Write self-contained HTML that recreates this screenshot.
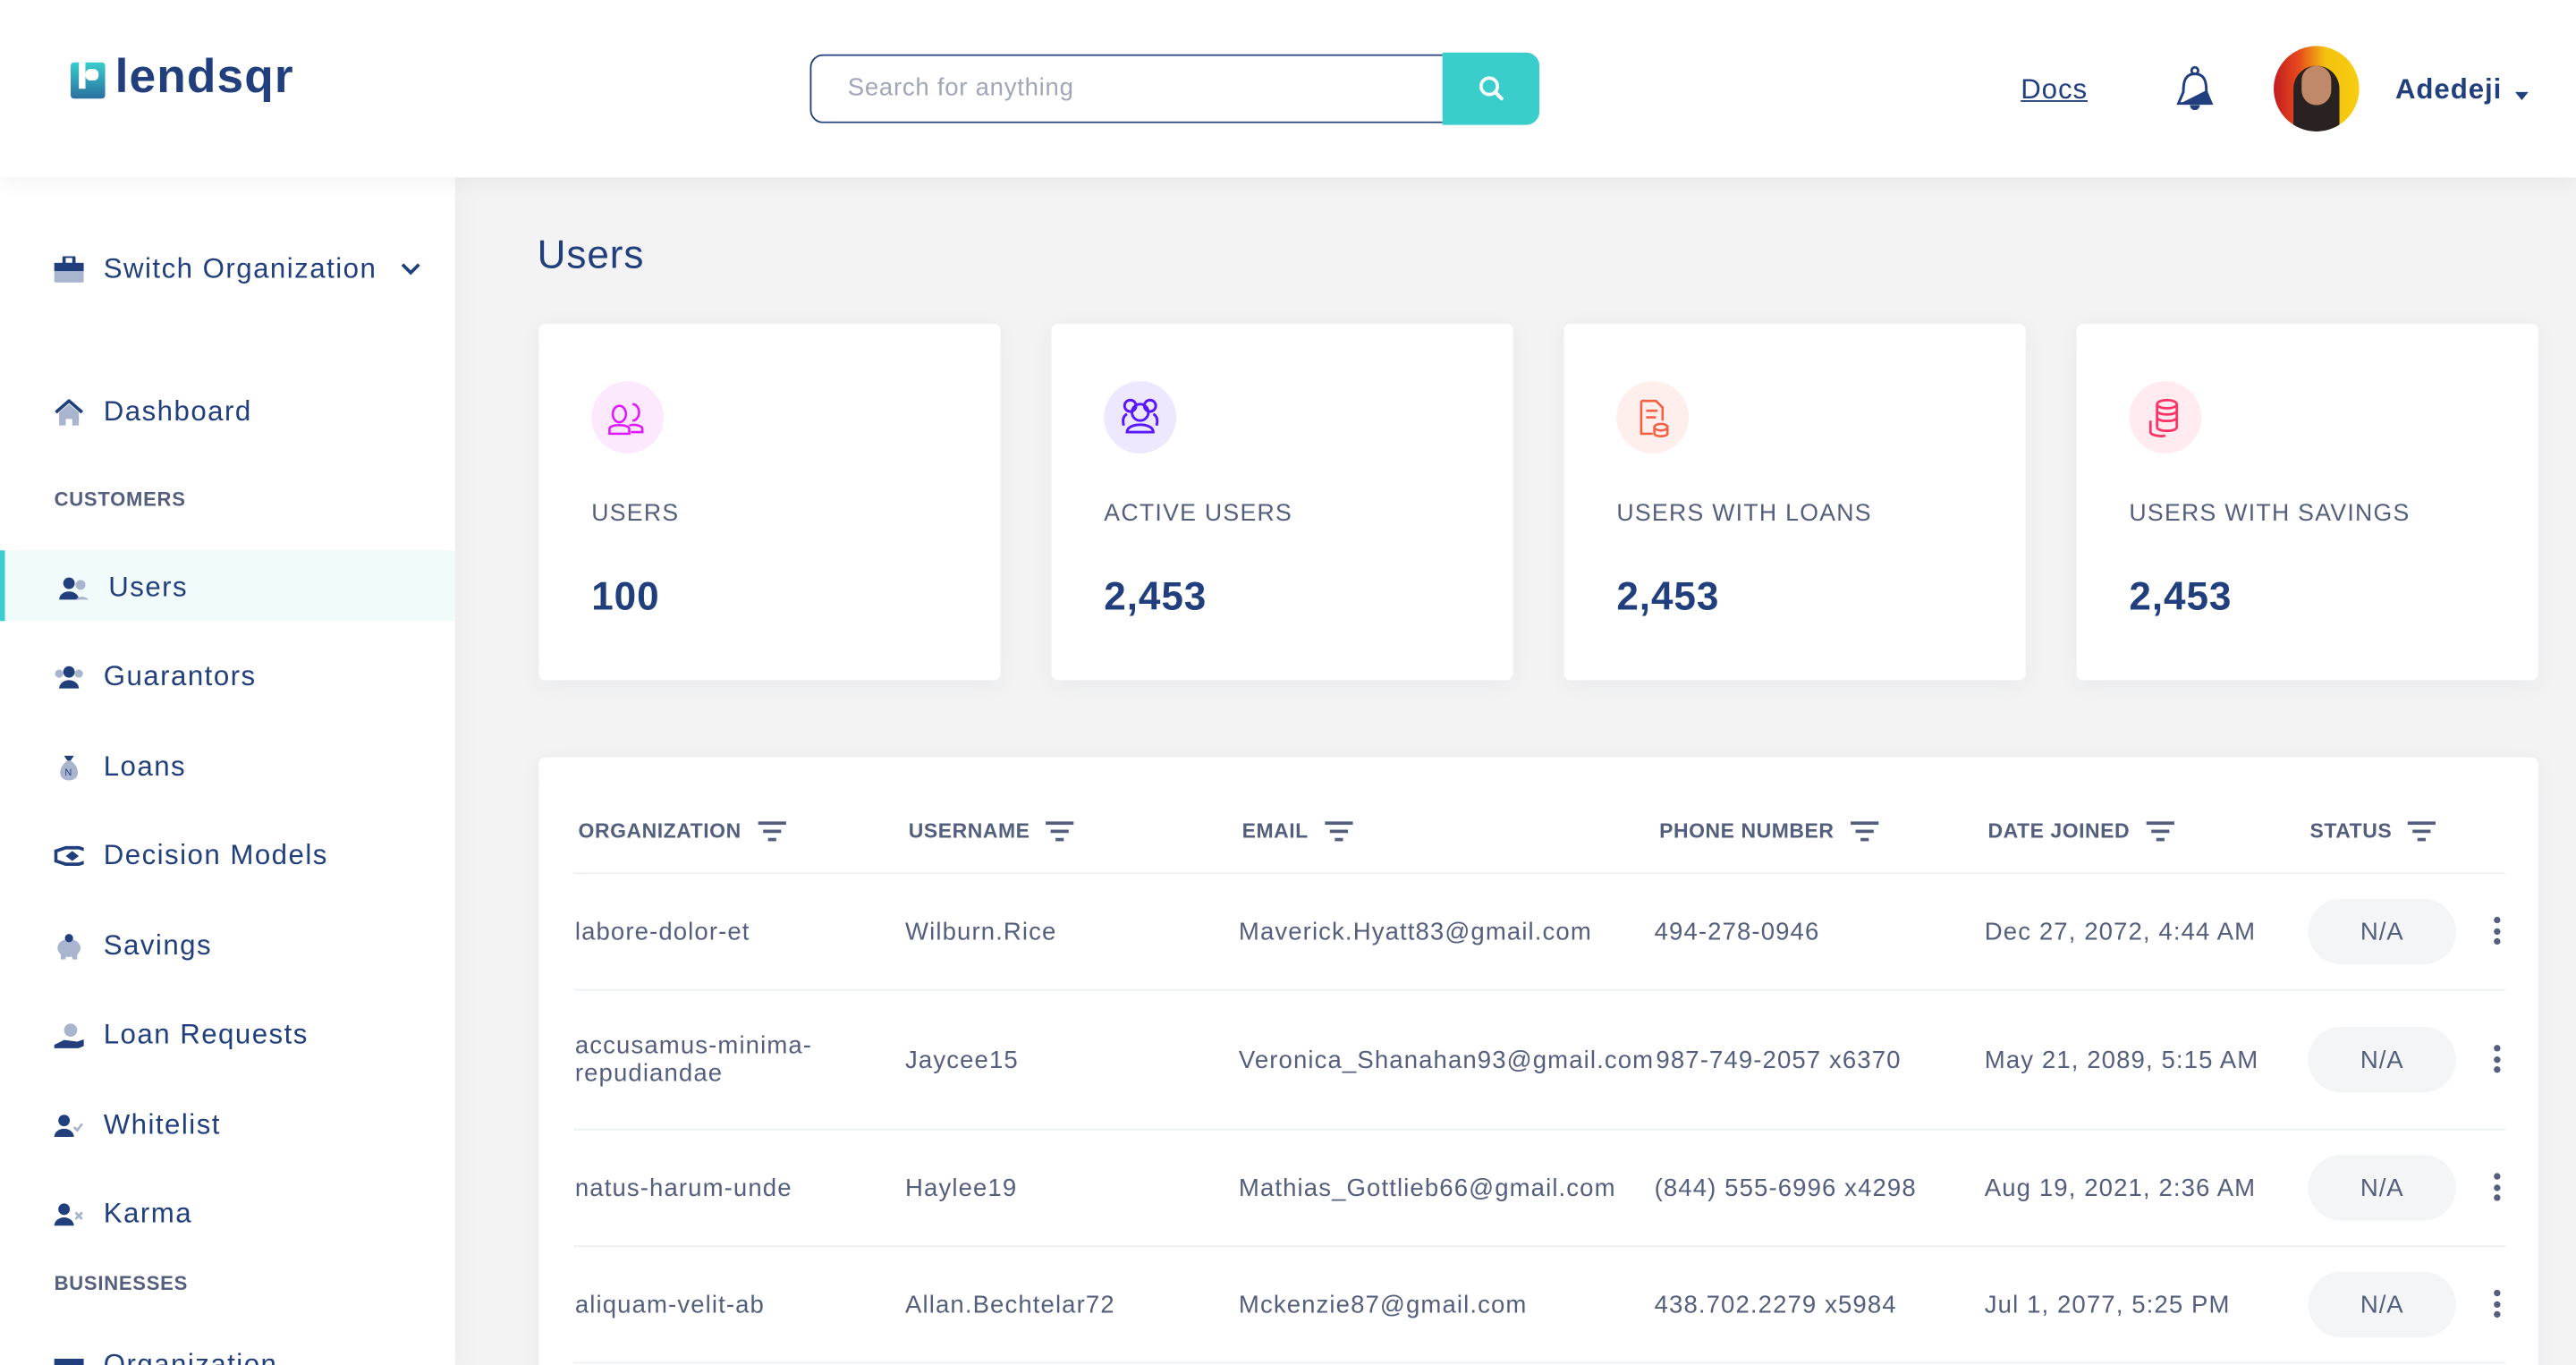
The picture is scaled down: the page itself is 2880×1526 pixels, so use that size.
<!DOCTYPE html>
<html><head><meta charset="utf-8">
<style>
html,body{margin:0;padding:0;width:2880px;height:1526px;overflow:hidden;background:#F3F3F3;}
#wrap{position:absolute;left:0;top:0;width:1568px;height:831px;transform:scale(1.83674);transform-origin:0 0;font-family:"Liberation Sans",sans-serif;color:#213F7D;background:#F3F3F3;overflow:hidden;}
.abs{position:absolute;}
#header{left:0;top:0;width:1568px;height:108px;background:#fff;box-shadow:0 3px 12px rgba(0,0,0,0.05);z-index:3;}
#sidebar{left:0;top:108px;width:277px;height:723px;background:#fff;box-shadow:0 5px 20px rgba(0,0,0,0.04);z-index:2;}
.nav{position:absolute;left:33px;font-size:17px;color:#213F7D;display:flex;align-items:center;gap:12px;white-space:nowrap;letter-spacing:0.8px;}
.nav .ic{width:18px;height:16px;display:inline-block;}
.sec{position:absolute;left:33px;font-size:12px;color:#545F7D;font-weight:600;letter-spacing:0.4px;}
.card{position:absolute;top:197px;width:281px;height:217px;background:#fff;border-radius:4px;box-shadow:0 3px 14px rgba(33,63,125,0.05);}
.card .circ{position:absolute;left:32px;top:35px;width:44px;height:44px;border-radius:50%;}
.card .lbl{position:absolute;left:32px;top:108px;font-size:14.5px;color:#545F7D;letter-spacing:0.7px;}
.card .num{position:absolute;left:32px;top:153px;font-size:24px;font-weight:700;color:#213F7D;letter-spacing:0.5px;}
#table{left:328px;top:461px;width:1217px;height:400px;background:#fff;border-radius:4px;box-shadow:0 3px 14px rgba(33,63,125,0.05);}
.th{position:absolute;top:38px;font-size:12.5px;font-weight:700;color:#545F7D;display:flex;align-items:center;gap:10px;letter-spacing:0.3px;}
.filt{width:17px;height:12px;position:relative;display:inline-block;}
.filt i{position:absolute;height:2px;background:#545F7D;left:50%;transform:translateX(-50%);}
.sep{position:absolute;left:21px;width:1176px;height:1px;background:#EDF1F6;}
.td{position:absolute;font-size:15px;color:#545F7D;line-height:17px;white-space:nowrap;letter-spacing:0.6px;}
.pill{position:absolute;left:1077px;width:90px;height:40px;border-radius:20px;background:#F4F5F7;font-size:15px;color:#545F7D;text-align:center;line-height:41px;letter-spacing:0.5px;}
.kebab{position:absolute;left:1190px;width:4px;}
.kebab i{display:block;width:4px;height:4px;border-radius:50%;background:#545F7D;margin-bottom:2.5px;}
</style></head>
<body>
<div id="wrap">
 <div id="header" class="abs">
  <div class="abs" style="left:43px;top:38px;width:21px;height:22px;border-radius:2px;background:linear-gradient(#39CDCC,#2a6fa0);">
   <div class="abs" style="left:5px;top:0;width:4px;height:16px;background:#fff;"></div>
   <div class="abs" style="left:9px;top:4px;width:8px;height:7px;background:#fff;border-radius:3px;"></div>
  </div>
  <div class="abs" style="left:70px;top:31px;font-size:29px;font-weight:700;color:#213F7D;letter-spacing:0.6px;">lendsqr</div>
  <div class="abs" style="left:493px;top:33px;width:385px;height:42px;border:1px solid #213F7D;border-right:none;border-radius:8px 0 0 8px;box-sizing:border-box;">
   <span class="abs" style="left:22px;top:11px;font-size:15px;color:#A0A6B8;letter-spacing:0.4px;">Search for anything</span>
  </div>
  <div class="abs" style="left:878px;top:32px;width:59px;height:44px;background:#39CDCC;border-radius:0 8px 8px 0;">
   <svg width="59" height="44"><circle cx="28.5" cy="20.5" r="5" fill="none" stroke="#fff" stroke-width="2"/><line x1="32" y1="24" x2="36" y2="28" stroke="#fff" stroke-width="2.2" stroke-linecap="round"/></svg>
  </div>
  <div class="abs" style="left:1230px;top:45px;font-size:17px;color:#213F7D;text-decoration:underline;letter-spacing:0.5px;">Docs</div>
  <svg class="abs" style="left:1323px;top:40px" width="26" height="30"><circle cx="13" cy="3" r="2" fill="none" stroke="#213F7D" stroke-width="1.5"/><path d="M13 5 C6 5 6 12 6 16 L3 23 L23 23 L20 16 C20 12 20 5 13 5Z" fill="none" stroke="#213F7D" stroke-width="1.6"/><path d="M4 23 L20 15 L22 23Z" fill="#213F7D"/><path d="M10 24 a3 3 0 0 0 6 0" fill="#213F7D"/></svg>
  <div class="abs" style="left:1384px;top:28px;width:52px;height:52px;border-radius:50%;overflow:hidden;background:linear-gradient(90deg,#c21c22 0%,#e84b1c 30%,#f3c20f 60%,#f7cd10 100%);">
   <div class="abs" style="left:12px;top:12px;width:28px;height:40px;border-radius:14px 14px 4px 4px;background:#2a2220;"></div>
   <div class="abs" style="left:17px;top:12px;width:18px;height:24px;border-radius:9px;background:#c08a6a;"></div>
  </div>
  <div class="abs" style="left:1458px;top:45px;font-size:17px;color:#213F7D;font-weight:600;letter-spacing:0.5px;">Adedeji</div>
  <div class="abs" style="left:1531px;top:56px;width:0;height:0;border-left:4.5px solid transparent;border-right:4.5px solid transparent;border-top:5px solid #213F7D;"></div>
 </div>

 <div id="sidebar" class="abs">
  <div class="nav" style="top:46px"><svg class="ic" width="18" height="16"><rect x="0" y="4" width="18" height="12" rx="1" fill="#A9B5CE"/><rect x="0" y="4" width="18" height="5" fill="#213F7D"/><rect x="6" y="0" width="6" height="5" rx="1" fill="none" stroke="#213F7D" stroke-width="2"/></svg>Switch Organization <svg width="14" height="10" style="margin-left:2px"><path d="M2 2 L7 7 L12 2" fill="none" stroke="#213F7D" stroke-width="2"/></svg></div>
  <div class="nav" style="top:133px"><svg class="ic" width="18" height="16"><path d="M1 8 L9 1 L17 8" fill="none" stroke="#213F7D" stroke-width="2"/><path d="M3 8 L9 3 L15 8 L15 16 L11 16 L11 12 L7 12 L7 16 L3 16Z" fill="#A9B5CE"/></svg>Dashboard</div>
  <div class="sec" style="top:189px">CUSTOMERS</div>
  <div class="abs" style="left:0;top:227px;width:277px;height:43px;background:#F2FBFB;border-left:3px solid #39CDCC;box-sizing:border-box;"></div>
  <div class="nav" style="top:240px;left:36px"><svg class="ic" width="18" height="16"><circle cx="6" cy="5" r="3.5" fill="#213F7D"/><path d="M0 15 a6 5 0 0 1 12 0Z" fill="#213F7D"/><circle cx="13" cy="6" r="3" fill="#A9B5CE"/><path d="M10 15 a5 4.5 0 0 1 8 0Z" fill="#A9B5CE"/></svg>Users</div>
  <div class="nav" style="top:294px"><svg class="ic" width="18" height="16"><circle cx="9" cy="5" r="3.5" fill="#213F7D"/><path d="M3 15 a6 5 0 0 1 12 0Z" fill="#213F7D"/><circle cx="3" cy="6" r="2.5" fill="#A9B5CE"/><circle cx="15" cy="6" r="2.5" fill="#A9B5CE"/></svg>Guarantors</div>
  <div class="nav" style="top:349px"><svg class="ic" width="18" height="16"><path d="M6 1 L12 1 L10 4 L8 4Z" fill="#213F7D"/><path d="M8 4 L10 4 C16 8 16 16 9 16 C2 16 2 8 8 4Z" fill="#A9B5CE"/><text x="9" y="13" font-size="6" fill="#213F7D" text-anchor="middle">N</text></svg>Loans</div>
  <div class="nav" style="top:403px"><svg class="ic" width="22" height="16"><path d="M1 5 L7 3 L15 3 L21 5 L21 11 L15 13 L7 13 L1 11Z" fill="none" stroke="#213F7D" stroke-width="2"/><path d="M7 8 L11 5 L15 8 L11 11Z" fill="#213F7D"/></svg>Decision Models</div>
  <div class="nav" style="top:458px"><svg class="ic" width="18" height="16"><ellipse cx="9" cy="9" rx="7" ry="5.5" fill="#A9B5CE"/><circle cx="9" cy="3" r="2.5" fill="#213F7D"/><rect x="4" y="13" width="3" height="3" fill="#A9B5CE"/><rect x="11" y="13" width="3" height="3" fill="#A9B5CE"/></svg>Savings</div>
  <div class="nav" style="top:512px"><svg class="ic" width="20" height="18"><circle cx="10" cy="5" r="4" fill="#A9B5CE"/><path d="M0 14 L6 11 L14 12 L20 10 L20 14 L12 17 L0 17Z" fill="#213F7D"/></svg>Loan Requests</div>
  <div class="nav" style="top:567px"><svg class="ic" width="18" height="16"><circle cx="6" cy="5" r="3.5" fill="#213F7D"/><path d="M0 15 a6 5 0 0 1 12 0Z" fill="#213F7D"/><path d="M12 9 L14 11 L17 7" fill="none" stroke="#A9B5CE" stroke-width="1.5"/></svg>Whitelist</div>
  <div class="nav" style="top:621px"><svg class="ic" width="18" height="16"><circle cx="6" cy="5" r="3.5" fill="#213F7D"/><path d="M0 15 a6 5 0 0 1 12 0Z" fill="#213F7D"/><path d="M13 7 L17 11 M17 7 L13 11" stroke="#A9B5CE" stroke-width="1.5"/></svg>Karma</div>
  <div class="sec" style="top:666px">BUSINESSES</div>
  <div class="nav" style="top:713px"><svg class="ic" width="18" height="16"><rect x="0" y="4" width="18" height="12" rx="1" fill="#A9B5CE"/><rect x="0" y="4" width="18" height="5" fill="#213F7D"/></svg>Organization</div>
 </div>

 <div class="abs" style="left:327px;top:142px;font-size:24px;color:#213F7D;font-weight:500;letter-spacing:0.5px;">Users</div>

 <div class="card" style="left:328px">
  <div class="circ" style="background:#FCE9FD"><svg width="44" height="44"><g fill="none" stroke="#DF18FF" stroke-width="1.4"><path d="M17 15 a4 5 0 0 1 0 10 a4 5 0 0 1 0-10Z M11 32 L11 29 C11 26 23 26 23 29 L23 32Z"/><path d="M25 14 a4 5 0 0 1 0 10 M23 27 C26 26 31 27 31 29 L31 31 L24 31"/></g></svg></div>
  <div class="lbl">USERS</div>
  <div class="num">100</div>
 </div>
 <div class="card" style="left:640px">
  <div class="circ" style="background:#EEE8FF"><svg width="44" height="44"><g fill="none" stroke="#5718FF" stroke-width="1.6"><circle cx="22" cy="19" r="5"/><circle cx="16" cy="15" r="3.5"/><circle cx="28" cy="15" r="3.5"/><path d="M14 31 C14 25 30 25 30 31Z"/><path d="M12 27 C11 23 12 21 14 20 M32 27 C33 23 32 21 30 20"/></g></svg></div>
  <div class="lbl">ACTIVE USERS</div>
  <div class="num">2,453</div>
 </div>
 <div class="card" style="left:952px">
  <div class="circ" style="background:#FEEFEC"><svg width="44" height="44"><g fill="none" stroke="#F55F44" stroke-width="1.4"><path d="M15 12 L24 12 L28 16 L28 24 M15 12 L15 32 L22 32"/><line x1="18" y1="18" x2="25" y2="18"/><line x1="18" y1="22" x2="24" y2="22"/><ellipse cx="27" cy="28" rx="4" ry="2"/><path d="M23 28 L23 32 C23 34 31 34 31 32 L31 28"/></g></svg></div>
  <div class="lbl">USERS WITH LOANS</div>
  <div class="num">2,453</div>
 </div>
 <div class="card" style="left:1264px">
  <div class="circ" style="background:#FFEBF0"><svg width="44" height="44"><g fill="none" stroke="#FF3366" stroke-width="1.5"><ellipse cx="23" cy="14" rx="6" ry="2.5"/><path d="M17 14 L17 28 C17 31 29 31 29 28 L29 14"/><path d="M17 18 C17 21 29 21 29 18 M17 22 C17 25 29 25 29 22 M13 24 L13 31 C13 33 20 34 22 33"/></g></svg></div>
  <div class="lbl">USERS WITH SAVINGS</div>
  <div class="num">2,453</div>
 </div>

 <div id="table" class="abs">
  <div class="th" style="left:24px">ORGANIZATION<span class="filt"><i style="top:0;width:17px"></i><i style="top:5px;width:11px"></i><i style="top:10px;width:5px"></i></span></div>
  <div class="th" style="left:225px">USERNAME<span class="filt"><i style="top:0;width:17px"></i><i style="top:5px;width:11px"></i><i style="top:10px;width:5px"></i></span></div>
  <div class="th" style="left:428px">EMAIL<span class="filt"><i style="top:0;width:17px"></i><i style="top:5px;width:11px"></i><i style="top:10px;width:5px"></i></span></div>
  <div class="th" style="left:682px">PHONE NUMBER<span class="filt"><i style="top:0;width:17px"></i><i style="top:5px;width:11px"></i><i style="top:10px;width:5px"></i></span></div>
  <div class="th" style="left:882px">DATE JOINED<span class="filt"><i style="top:0;width:17px"></i><i style="top:5px;width:11px"></i><i style="top:10px;width:5px"></i></span></div>
  <div class="th" style="left:1078px">STATUS<span class="filt"><i style="top:0;width:17px"></i><i style="top:5px;width:11px"></i><i style="top:10px;width:5px"></i></span></div>

  <div class="sep" style="top:70px"></div>
  <div class="td" style="left:22px;top:98px">labore-dolor-et</div>
  <div class="td" style="left:223px;top:98px">Wilburn.Rice</div>
  <div class="td" style="left:426px;top:98px">Maverick.Hyatt83@gmail.com</div>
  <div class="td" style="left:679px;top:98px">494-278-0946</div>
  <div class="td" style="left:880px;top:98px">Dec 27, 2072, 4:44 AM</div>
  <div class="pill" style="top:86px">N/A</div>
  <div class="kebab" style="top:97px"><i></i><i></i><i></i></div>

  <div class="sep" style="top:141px"></div>
  <div class="td" style="left:22px;top:167px">accusamus-minima-<br>repudiandae</div>
  <div class="td" style="left:223px;top:176px">Jaycee15</div>
  <div class="td" style="left:426px;top:176px">Veronica_Shanahan93@gmail.com</div>
  <div class="td" style="left:679px;top:176px;background:#fff;padding-left:1px">987-749-2057 x6370</div>
  <div class="td" style="left:880px;top:176px">May 21, 2089, 5:15 AM</div>
  <div class="pill" style="top:164px">N/A</div>
  <div class="kebab" style="top:175px"><i></i><i></i><i></i></div>

  <div class="sep" style="top:226px"></div>
  <div class="td" style="left:22px;top:254px">natus-harum-unde</div>
  <div class="td" style="left:223px;top:254px">Haylee19</div>
  <div class="td" style="left:426px;top:254px">Mathias_Gottlieb66@gmail.com</div>
  <div class="td" style="left:679px;top:254px">(844) 555-6996 x4298</div>
  <div class="td" style="left:880px;top:254px">Aug 19, 2021, 2:36 AM</div>
  <div class="pill" style="top:242px">N/A</div>
  <div class="kebab" style="top:253px"><i></i><i></i><i></i></div>

  <div class="sep" style="top:297px"></div>
  <div class="td" style="left:22px;top:325px">aliquam-velit-ab</div>
  <div class="td" style="left:223px;top:325px">Allan.Bechtelar72</div>
  <div class="td" style="left:426px;top:325px">Mckenzie87@gmail.com</div>
  <div class="td" style="left:679px;top:325px">438.702.2279 x5984</div>
  <div class="td" style="left:880px;top:325px">Jul 1, 2077, 5:25 PM</div>
  <div class="pill" style="top:313px">N/A</div>
  <div class="kebab" style="top:324px"><i></i><i></i><i></i></div>

  <div class="sep" style="top:368px"></div>
 </div>
</div>
</body></html>
